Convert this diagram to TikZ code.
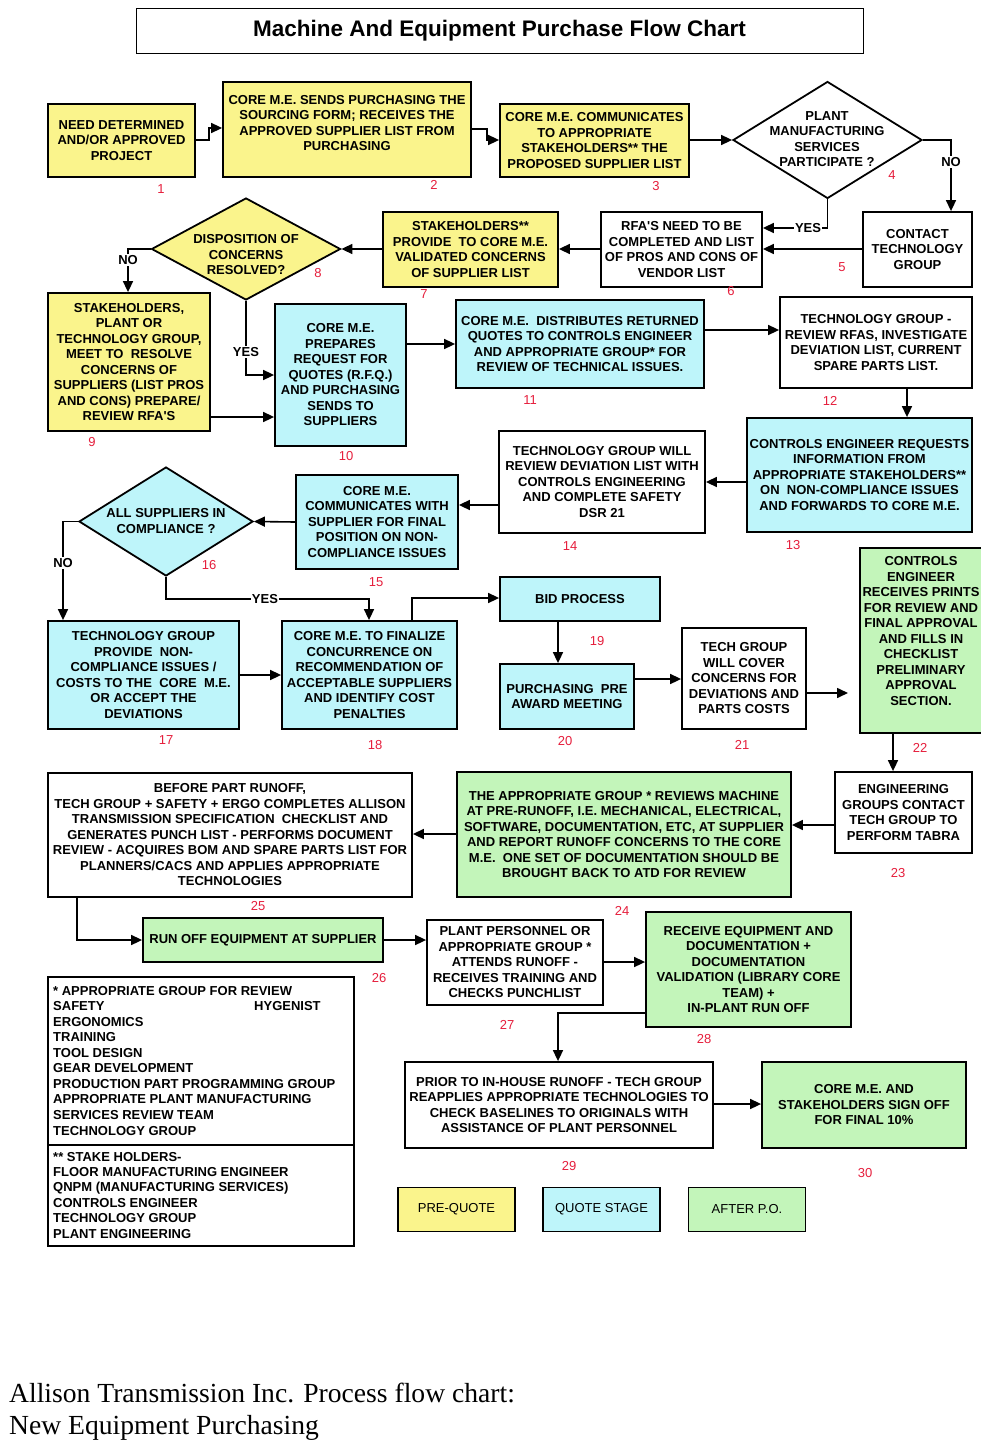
\documentclass[tikz,border=0pt]{standalone}
\usepackage{fontspec}
\setmainfont{Liberation Sans}
\newfontfamily\capfont{Liberation Serif}
\usetikzlibrary{arrows.meta,shapes.geometric}
\definecolor{yel}{HTML}{FAF48C}
\definecolor{cya}{HTML}{BEF5FA}
\definecolor{grn}{HTML}{C3F5BA}
\definecolor{numred}{HTML}{E61E3C}
\newcommand\bx[7]{%
  \node[box,#6,minimum width={(#4-#2)*1pt},minimum height={(#5-#3)*1pt}] (#1) at ({(#2+#4)/2},{(#3+#5)/2}) {#7};}
\tikzset{
  box/.style={draw, line width=1.8pt, inner sep=0pt, align=center, font=\fontsize{13}{15.5}\selectfont\bfseries},
  txt/.style={inner sep=0pt, align=center, font=\fontsize{13}{15.5}\selectfont\bfseries},
  arr/.style={line width=1.6pt, -{Triangle[length=11pt,width=10pt]}},
  num/.style={text=numred, inner sep=0pt, font=\fontsize{13}{14}\selectfont},
  lbl/.style={fill=white, inner sep=1pt, font=\fontsize{13}{15}\selectfont\bfseries},
  dia/.style={diamond, draw, line width=1.8pt, inner sep=0pt},
  note/.style={anchor=base west, inner sep=0pt, font=\fontsize{13}{15}\selectfont\bfseries},
  leg/.style={draw, line width=1.8pt, inner sep=0pt, minimum width=117pt, minimum height=44pt, font=\fontsize{13}{15}\selectfont},
}
\begin{document}
\begin{tikzpicture}[x=1pt,y=-1pt]
\useasboundingbox (0,0) rectangle (980,1447);
\fill[white] (0,0) rectangle (980,1447);
% title
\node[draw, line width=0.8pt, minimum width=727pt, minimum height=45pt, inner sep=0pt, font=\fontsize{22.5}{27}\selectfont\bfseries] (title) at (499.5,30.5) {Machine And Equipment Purchase Flow Chart};
% boxes
\bx{n1}{48}{104}{195}{177}{fill=yel}{NEED DETERMINED\\AND/OR APPROVED\\PROJECT}
\bx{n2}{223}{82}{471}{177}{fill=yel}{}
\node[txt] at (347,123) {CORE M.E. SENDS PURCHASING THE\\SOURCING FORM; RECEIVES THE\\APPROVED SUPPLIER LIST FROM\\PURCHASING};
\bx{n3}{500}{104}{689}{177}{fill=yel}{CORE M.E. COMMUNICATES\\TO APPROPRIATE\\STAKEHOLDERS** THE\\PROPOSED SUPPLIER LIST}
\node[dia, fill=white, minimum width=189pt, minimum height=117pt] (d4) at (827.5,140) {};
\node[txt] at (827,139) {PLANT\\MANUFACTURING\\SERVICES\\PARTICIPATE ?};
\bx{n5}{863}{212}{972}{287}{fill=white}{CONTACT\\TECHNOLOGY\\GROUP}
\bx{n6}{601}{212}{762}{287}{fill=white}{RFA\textquotesingle S NEED TO BE\\COMPLETED AND LIST\\OF PROS AND CONS OF\\VENDOR LIST}
\bx{n7}{383}{212}{558}{287}{fill=yel}{STAKEHOLDERS**\\PROVIDE \ TO CORE M.E.\\VALIDATED CONCERNS\\OF SUPPLIER LIST}
\node[dia, fill=yel, minimum width=189pt, minimum height=102pt] (d8) at (246,249) {};
\node[txt] at (246,255) {DISPOSITION OF\\CONCERNS\\RESOLVED?};
\bx{n9}{48}{293}{210}{431}{fill=yel}{STAKEHOLDERS,\\PLANT OR\\TECHNOLOGY GROUP,\\MEET TO \ RESOLVE\\CONCERNS OF\\SUPPLIERS (LIST PROS\\AND CONS) PREPARE/\\REVIEW RFA\textquotesingle S}
\bx{n10}{275}{304}{406}{446}{fill=cya}{CORE M.E.\\PREPARES\\REQUEST FOR\\QUOTES (R.F.Q.)\\AND PURCHASING\\SENDS TO\\SUPPLIERS}
\bx{n11}{456}{300}{704}{388}{fill=cya}{CORE M.E. \ DISTRIBUTES RETURNED\\QUOTES TO CONTROLS ENGINEER\\AND APPROPRIATE GROUP* FOR\\REVIEW OF TECHNICAL ISSUES.}
\bx{n12}{780}{297}{972}{388}{fill=white}{TECHNOLOGY GROUP -\\REVIEW RFAS, INVESTIGATE\\DEVIATION LIST, CURRENT\\SPARE PARTS LIST.}
\bx{n13}{747}{418}{972}{532}{fill=cya}{CONTROLS ENGINEER REQUESTS\\INFORMATION FROM\\APPROPRIATE STAKEHOLDERS**\\ON \ NON-COMPLIANCE ISSUES\\AND FORWARDS TO CORE M.E.}
\bx{n14}{499}{431}{705}{533}{fill=white}{TECHNOLOGY GROUP WILL\\REVIEW DEVIATION LIST WITH\\CONTROLS ENGINEERING\\AND COMPLETE SAFETY\\DSR 21}
\bx{n15}{296}{475}{458}{569}{fill=cya}{CORE M.E.\\COMMUNICATES WITH\\SUPPLIER FOR FINAL\\POSITION ON NON-\\COMPLIANCE ISSUES}
\node[dia, fill=cya, minimum width=174pt, minimum height=109pt] (d16) at (166,521.5) {};
\node[txt] at (166,521) {ALL SUPPLIERS IN\\COMPLIANCE ?};
\bx{n17}{48}{621}{239}{729}{fill=cya}{TECHNOLOGY GROUP\\PROVIDE \ NON-\\COMPLIANCE ISSUES /\\COSTS TO THE \ CORE \ M.E.\\OR ACCEPT THE\\DEVIATIONS}
\bx{n18}{282}{621}{457}{729}{fill=cya}{CORE M.E. TO FINALIZE\\CONCURRENCE ON\\RECOMMENDATION OF\\ACCEPTABLE SUPPLIERS\\AND IDENTIFY COST\\PENALTIES}
\bx{n19}{500}{577}{660}{621}{fill=cya}{BID PROCESS}
\bx{n20}{500}{664}{634}{729}{fill=cya}{PURCHASING \ PRE\\AWARD MEETING}
\bx{n21}{682}{628}{806}{729}{fill=white}{TECH GROUP\\WILL COVER\\CONCERNS FOR\\DEVIATIONS AND\\PARTS COSTS}
\bx{n22}{860}{548}{982}{733}{fill=grn}{}
\node[txt] at (921,631) {CONTROLS\\ENGINEER\\RECEIVES PRINTS\\FOR REVIEW AND\\FINAL APPROVAL\\AND FILLS IN\\CHECKLIST\\PRELIMINARY\\APPROVAL\\SECTION.};
\bx{n23}{835}{772}{972}{853}{fill=white}{ENGINEERING\\GROUPS CONTACT\\TECH GROUP TO\\PERFORM TABRA}
\bx{n24}{457}{772}{791}{897}{fill=grn}{THE APPROPRIATE GROUP * REVIEWS MACHINE\\AT PRE-RUNOFF, I.E. MECHANICAL, ELECTRICAL,\\SOFTWARE, DOCUMENTATION, ETC, AT SUPPLIER\\AND REPORT RUNOFF CONCERNS TO THE CORE\\M.E. \ ONE SET OF DOCUMENTATION SHOULD BE\\BROUGHT BACK TO ATD FOR REVIEW}
\bx{n25}{48}{773}{412}{897}{fill=white}{BEFORE PART RUNOFF,\\TECH GROUP + SAFETY + ERGO COMPLETES ALLISON\\TRANSMISSION SPECIFICATION \ CHECKLIST AND\\GENERATES PUNCH LIST - PERFORMS DOCUMENT\\REVIEW - ACQUIRES BOM AND SPARE PARTS LIST FOR\\PLANNERS/CACS AND APPLIES APPROPRIATE\\TECHNOLOGIES}
\bx{n26}{143}{918}{383}{962}{fill=grn}{RUN OFF EQUIPMENT AT SUPPLIER}
\bx{n27}{427}{920}{603}{1005}{fill=white}{PLANT PERSONNEL OR\\APPROPRIATE GROUP *\\ATTENDS RUNOFF -\\RECEIVES TRAINING AND\\CHECKS PUNCHLIST}
\bx{n28}{646}{912}{851}{1027}{fill=grn}{RECEIVE EQUIPMENT AND\\DOCUMENTATION +\\DOCUMENTATION\\VALIDATION (LIBRARY CORE\\TEAM) +\\IN-PLANT RUN OFF}
\bx{n29}{405}{1062}{713}{1148}{fill=white}{PRIOR TO IN-HOUSE RUNOFF - TECH GROUP\\REAPPLIES APPROPRIATE TECHNOLOGIES TO\\CHECK BASELINES TO ORIGINALS WITH\\ASSISTANCE OF PLANT PERSONNEL}
\bx{n30}{762}{1062}{966}{1148}{fill=grn}{CORE M.E. AND\\STAKEHOLDERS SIGN OFF\\FOR FINAL 10\%}
% connectors
\coordinate (e21) at (848,693);
\draw[arr] (n1.east |- 0,140) -| (209,128) -- (n2.west |- 0,128);
\draw[arr] (n2.east |- 0,129) -| (487,140) -- (n3.west |- 0,140);
\draw[arr] (n3.east |- 0,140) -- (d4.west);
\draw[arr] (d4.east) -| (n5.north -| 951,0);
\draw[arr] (d4.south) |- (n6.east |- 0,228);
\draw[arr] (n5.west |- 0,249) -- (n6.east |- 0,249);
\draw[arr] (n6.west |- 0,249) -- (n7.east |- 0,249);
\draw[arr] (n7.west |- 0,249) -- (d8.east);
\draw[arr] (d8.west) -| (n9.north -| 128,0);
\draw[arr] (d8.south) |- (n10.west |- 0,375);
\draw[arr] (n9.east |- 0,417) -- (n10.west |- 0,417);
\draw[arr] (n10.east |- 0,344) -- (n11.west |- 0,344);
\draw[arr] (n11.east |- 0,330) -- (n12.west |- 0,330);
\draw[arr] (n12.south -| 907,0) -- (n13.north -| 907,0);
\draw[arr] (n13.west |- 0,482) -- (n14.east |- 0,482);
\draw[arr] (n14.west |- 0,505) -- (n15.east |- 0,505);
\draw[arr] (n15.west |- 0,522) -- (d16.east);
\draw[arr] (d16.west) -| (n17.north -| 63,0);
\draw[arr] (d16.south) -- (d16.south |- 0,599) -| (n18.north -| 369,0);
\draw[arr] (n17.east |- 0,675) -- (n18.west |- 0,675);
\draw[arr] (n18.north -| 412,0) |- (n19.west |- 0,598);
\draw[arr] (n19.south -| 558,0) -- (n20.north -| 558,0);
\draw[arr] (n20.east |- 0,679) -- (n21.west |- 0,679);
\draw[arr] (n21.east |- 0,693) -- (e21);
\draw[arr] (n22.south -| 893,0) -- (n23.north -| 893,0);
\draw[arr] (n23.west |- 0,825) -- (n24.east |- 0,825);
\draw[arr] (n24.west |- 0,834) -- (n25.east |- 0,834);
\draw[arr] (n25.south -| 77,0) |- (n26.west |- 0,940);
\draw[arr] (n26.east |- 0,940) -- (n27.west |- 0,940);
\draw[arr] (n27.east |- 0,962) -- (n28.west |- 0,962);
\draw[arr] (n28.west |- 0,1013) -| (n29.north -| 558,0);
\draw[arr] (n29.east |- 0,1104) -- (n30.west |- 0,1104);
% yes/no labels
\node[lbl] at (951,162) {NO};
\node[lbl] at (808,228) {YES};
\node[lbl] at (128,260) {NO};
\node[lbl] at (246,352) {YES};
\node[lbl] at (63,563) {NO};
\node[lbl] at (265,599) {YES};
% numbers
\foreach \n/\x/\y in {1/161/189,2/434/185,3/656/186,4/892/175,5/842/267,6/731/291,7/424/294,8/318/273,9/92/442,10/346/456,11/530/400,12/830/401,13/793/545,14/570/546,15/376/582,16/209/565,17/166/740,18/375/745,19/597/641,20/565/741,21/742/745,22/920/748,23/898/873,24/622/911,25/258/906,26/379/978,27/507/1025,28/704/1039,29/569/1166,30/865/1173}
  \node[num] at (\x,\y) {\n};
% notes
\node[draw, line width=1.8pt, minimum width=306pt, minimum height=269pt, inner sep=0pt] (notes) at (201,1111.5) {};
\draw[line width=1.8pt] (48,1145) -- (354,1145);
\foreach \t [count=\i from 0] in {{* APPROPRIATE GROUP FOR REVIEW},SAFETY,ERGONOMICS,TRAINING,TOOL DESIGN,GEAR DEVELOPMENT,PRODUCTION PART PROGRAMMING GROUP,APPROPRIATE PLANT MANUFACTURING,SERVICES REVIEW TEAM,TECHNOLOGY GROUP}
  \node[note] at (53,{995+\i*15.56}) {\t};
\node[note] at (254,1010.6) {HYGENIST};
\foreach \t [count=\i from 0] in {{** STAKE HOLDERS-},FLOOR MANUFACTURING ENGINEER,QNPM (MANUFACTURING SERVICES),CONTROLS ENGINEER,TECHNOLOGY GROUP,PLANT ENGINEERING}
  \node[note] at (53,{1161+\i*15.4}) {\t};
% legend
\node[leg, fill=yel] (l1) at (456.5,1209.5) {PRE-QUOTE};
\node[leg, fill=cya] (l2) at (601.5,1209.5) {QUOTE STAGE};
\node[leg, fill=grn] (l3) at (747,1209.5) {AFTER P.O.};
% caption
\node[anchor=base west, inner sep=0pt, font=\capfont\fontsize{27.6}{32}\selectfont] (cap1) at (9,1402) {Allison Transmission Inc. Process flow chart:};
\node[anchor=base west, inner sep=0pt, font=\capfont\fontsize{27.6}{32}\selectfont] (cap2) at (9,1434) {New Equipment Purchasing};
\end{tikzpicture}
\end{document}
